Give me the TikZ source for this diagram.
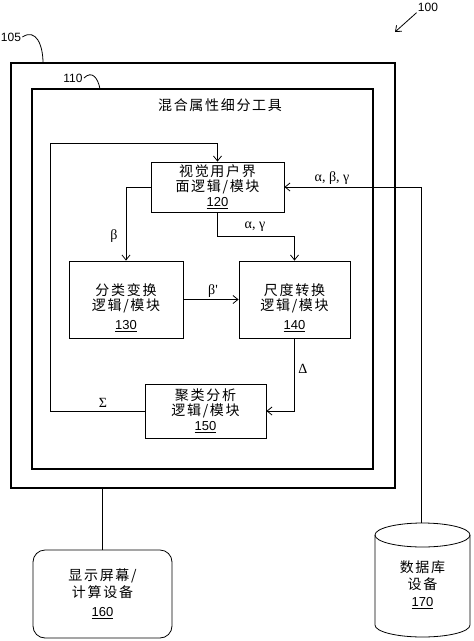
\documentclass[tikz,border=0pt]{standalone}
\usepackage{fontspec}
\setmainfont{Liberation Sans}
\newfontfamily\cjk[LetterSpace=12]{Noto Sans CJK SC}
\newfontfamily\grk{Liberation Serif}
\usetikzlibrary{arrows.meta}
\newcommand\modnum[1]{{\rmfamily\fontsize{13}{15}\selectfont\underline{#1}}}
\newcommand\modfont{\cjk\fontsize{14}{15}\selectfont\lineskiplimit=-30pt\lineskip=0pt\relax}
\begin{document}
\begin{tikzpicture}[x=1pt, y=-1pt, line width=0.8pt,
                    >={Straight Barb[length=5pt,width=8pt]},
                    frame/.style={draw, inner sep=0pt},
                    module/.style={draw, align=center, inner sep=0pt, font=\modfont},
                    tag/.style={font=\fontsize{12}{12}\selectfont, inner sep=1pt},
                    sym/.style={font=\grk\fontsize{14}{14}\selectfont, inner sep=1pt}]
	\useasboundingbox (0,0) rectangle (474,641);
	% device and tool frames
	\node[frame, line width=1.8pt, minimum width=384pt, minimum height=425pt] (dev) at (203,275.5) {};
	\node[frame, line width=1.2pt, minimum width=341pt, minimum height=380pt] (tool) at (202.5,279) {};
	\node[font=\modfont] (title) at (220,105) {混合属性细分工具};
	% modules
	\node[module, minimum width=133pt, minimum height=50pt] (ui) at (217.5,187) {视觉用户界\\面逻辑/模块\\\modnum{120}};
	\node[module, minimum width=114pt, minimum height=77pt] (cat) at (126,299.5) {\rule{0pt}{28pt}分类变换\\逻辑/模块\\[4pt]\modnum{130}};
	\node[module, minimum width=111pt, minimum height=77pt] (scl) at (294.5,299.5) {\rule{0pt}{28pt}尺度转换\\逻辑/模块\\[4pt]\modnum{140}};
	\node[module, minimum width=121pt, minimum height=54pt] (clu) at (205.5,411) {聚类分析\\逻辑/模块\\\modnum{150}};
	\node[module, rounded corners=12pt, minimum width=139pt, minimum height=88pt] (disp) at (102.5,594) {显示屏幕/\\[2pt]计算设备\\[4pt]\modnum{160}};
	% database
	\draw (375,535) -- (375,625) arc[start angle=180, end angle=360, x radius=47.5pt, y radius=12pt] -- (470,535);
	\draw (422.5,535) ellipse [x radius=47.5pt, y radius=12pt];
	\node[module, draw=none] (db) at (422.5,585) {数据库\\[2pt]设备\\[2pt]\modnum{170}};
	\coordinate (dbtop) at (421,523);
	\coordinate (loop) at (50,143);
	% connectors
	\draw (disp.north |- dev.south) -- (disp.north);
	\draw[->] (dbtop) |- (ui.east);
	\draw[->] (ui.west) -| (cat.north);
	\draw[->] (ui.south) -- ++(0,24) -| (scl.north);
	\draw[->] (cat.east) -- (scl.west);
	\draw[->] (scl.south) |- (clu.east);
	\draw[->] (clu.west) -| (loop) -| (ui.north);
	% labels
	\node[sym] (labg) at (332,178) {α, β, γ};
	\node[sym] (lb) at (114,236) {β};
	\node[sym] (lag) at (255,227) {α, γ};
	\node[sym] (lbp) at (213,291) {β'};
	\node[sym] (ld) at (303,369) {Δ};
	\node[sym] (ls) at (103,403) {Σ};
	% reference numerals
	\node[tag] (t100) at (428,7) {100};
	\coordinate (a100) at (395,32);
	\draw[->] (t100.south west) -- (a100);
	\node[tag] (t105) at (11,37) {105};
	\coordinate (c105) at (43,63);
	\draw (t105.east) .. controls (36,28) and (43,45) .. (c105);
	\node[tag] (t110) at (73,78) {110};
	\coordinate (c110) at (100,89);
	\draw (t110.east) .. controls (92,70) and (98,78) .. (c110);
\end{tikzpicture}
\end{document}
